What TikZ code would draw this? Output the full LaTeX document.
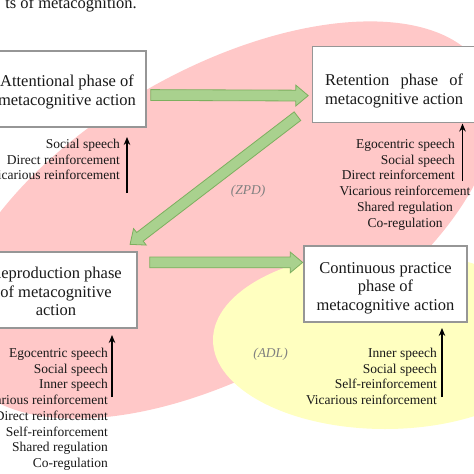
\documentclass[tikz,border=0pt]{standalone}
\usepackage{fontspec}
\setmainfont{Liberation Serif}
\usetikzlibrary{shapes.arrows,arrows.meta,calc}
\definecolor{pinkfill}{RGB}{255,200,200}
\definecolor{yellowfill}{RGB}{255,255,192}
\definecolor{greenfill}{RGB}{169,209,142}
\definecolor{greenline}{RGB}{125,175,95}
\definecolor{boxline}{RGB}{150,150,150}
\definecolor{txt}{RGB}{25,25,25}
\definecolor{zonetxt}{RGB}{128,128,128}
\newlength{\retw}
\newcommand{\fatlink}[3]{\path let \p1=(#1), \p2=(#2), \n1={veclen(\x2-\x1,\y2-\y1)}, \n2={atan2(\y2-\y1,\x2-\x1)} in node[fatarrow, minimum height=\n1, rotate=\n2] (#3) at ($(\p1)!0.5!(\p2)$) {};}
\begin{document}
\begin{tikzpicture}[x=1pt,y=-1pt,
  phasebox/.style={draw=boxline, line width=1.2pt, fill=white, inner sep=0pt, align=center, text=txt, font=\fontsize{16.5}{18.5}\selectfont},
  factorlist/.style={inner sep=0pt, text=txt, font=\fontsize{13.5}{15.7}\selectfont},
  upar/.style={draw=black, line width=1.2pt, -{Stealth[length=8pt,width=6.5pt]}},
  fatarrow/.style={single arrow, draw=greenline, fill=greenfill, line width=0.8pt, inner xsep=0pt, inner ysep=5pt, minimum width=0pt, single arrow head extend=5pt, single arrow tip angle=80},
  zone/.style={inner sep=0pt, text=zonetxt, font=\itshape\fontsize{13.5}{16}\selectfont}]
\path[use as bounding box] (0,0) rectangle (474,474);
\clip (0,0) rectangle (474,474);
\fill[white] (0,0) rectangle (474,474);
\fill[pinkfill, rotate around={29.7:(223,220)}] (223,220) ellipse [x radius=301pt, y radius=151pt];
\fill[yellowfill] (385,340) ellipse [x radius=172pt, y radius=89pt];

\node[anchor=base east, inner sep=0pt, text=txt, font=\fontsize{16.5}{18}\selectfont] (caption) at (137,8) {ts of metacognition.};

\node[phasebox, minimum width=158pt, minimum height=76pt] (att) at (67,89) {\rule{0pt}{17.5pt}Attentional phase of\\metacognitive action};
\node[phasebox, anchor=north west, align=left, minimum width=163pt, minimum height=76pt] (ret) at (312,46) {\settowidth{\retw}{metacognitive action}\rule{0pt}{24pt}\makebox[\retw][s]{Retention phase of}\\metacognitive action};
\node[phasebox, minimum width=162pt, minimum height=76pt] (rep) at (56,290) {\rule{0pt}{14.5pt}Reproduction phase\\of metacognitive\\action};
\node[phasebox, minimum width=163pt, minimum height=76pt] (cont) at (385.5,284) {\rule{0pt}{19.5pt}Continuous practice\\phase of\\metacognitive action};

\coordinate (g1s) at ($(att.east)+(1,6)$);
\coordinate (g1e) at ($(ret.west)+(-7,11)$);
\coordinate (g2s) at ($(ret.south west)+(-12,-9)$);
\coordinate (g2e) at ($(rep.north east)+(-5,-9)$);
\coordinate (g3s) at ($(rep.north east)+(9,11)$);
\coordinate (g3e) at ($(cont.north west)+(-4,17)$);
\fatlink{g1s}{g1e}{arrowA}
\fatlink{g2s}{g2e}{arrowB}
\fatlink{g3s}{g3e}{arrowC}

\node[factorlist, anchor=north east, align=right] (attlist) at (120,139) {Social speech\\Direct reinforcement\\Vicarious reinforcement};
\node[factorlist, anchor=north east, align=right] (retlistA) at (455,139) {Egocentric speech\\Social speech\\Direct reinforcement};
\node[factorlist, anchor=north, align=center] (retlistB) at (405,186) {Vicarious reinforcement\\Shared regulation\\Co-regulation};
\node[factorlist, anchor=north east, align=right] (replist) at (108,348) {Egocentric speech\\Social speech\\Inner speech\\Vicarious reinforcement\\Direct reinforcement\\Self-reinforcement\\Shared regulation\\Co-regulation};
\node[factorlist, anchor=north east, align=right] (contlist) at (437,348) {Inner speech\\Social speech\\Self-reinforcement\\Vicarious reinforcement};

\node[zone, anchor=base] (zpd) at (248,194.5) {(ZPD)};
\node[zone, anchor=base] (adl) at (270.5,357) {(ADL)};

\coordinate (attA) at (127,193); \coordinate (attB) at (127,137);
\coordinate (retA) at (462.5,181); \coordinate (retB) at (462.5,123.5);
\coordinate (repA) at (112,397); \coordinate (repB) at (112,335);
\coordinate (contA) at (442,397); \coordinate (contB) at (442,328);
\draw[upar] (attA) -- (attB);
\draw[upar] (retA) -- (retB);
\draw[upar] (repA) -- (repB);
\draw[upar] (contA) -- (contB);
\end{tikzpicture}
\end{document}
